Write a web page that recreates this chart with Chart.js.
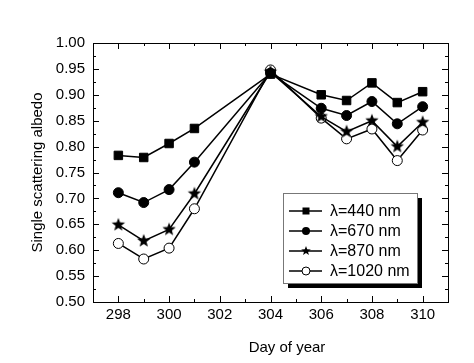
<!DOCTYPE html>
<html>
<head>
<meta charset="utf-8">
<script src="https://cdn.jsdelivr.net/npm/chart.js@4/dist/chart.umd.min.js"></script>
<style>
  html, body { margin: 0; padding: 0; background: #fff; overflow: hidden; }
  canvas { display: block; }
</style>
</head>
<body>
<canvas id="albedoChart" width="474" height="363"></canvas>
<script>
const days = [298, 299, 300, 301, 304, 306, 307, 308, 309, 310];
const albedo440 = [0.783, 0.779, 0.806, 0.835, 0.940, 0.900, 0.889, 0.923, 0.885, 0.906];
const albedo670 = [0.711, 0.692, 0.717, 0.770, 0.942, 0.874, 0.860, 0.887, 0.844, 0.877];
const albedo870 = [0.649, 0.618, 0.640, 0.709, 0.944, 0.858, 0.829, 0.850, 0.800, 0.847];
const albedo1020 = [0.613, 0.583, 0.604, 0.680, 0.948, 0.855, 0.815, 0.834, 0.773, 0.832];
const seriesLabels = ['λ=440 nm', 'λ=670 nm', 'λ=870 nm', 'λ=1020 nm'];
const yTicks = [0.50, 0.55, 0.60, 0.65, 0.70, 0.75, 0.80, 0.85, 0.90, 0.95, 1.00];
const xTicks = [298, 300, 302, 304, 306, 308, 310];
const xTitle = 'Day of year';

const FONT = 'Arial, "Liberation Sans", sans-serif';

// filled five-point star used as point style
function makeStar(r) {
    const c = document.createElement('canvas');
    c.width = c.height = r * 2 + 2;
    const g = c.getContext('2d');
    g.fillStyle = '#000';
    g.beginPath();
    for (let i = 0; i < 10; i++) {
        const rad = i % 2 === 0 ? r : r * 0.42;
        const a = -Math.PI / 2 + i * Math.PI / 5;
        const px = r + 1 + rad * Math.cos(a);
        const py = r + 1 + rad * Math.sin(a);
        if (i === 0) g.moveTo(px, py); else g.lineTo(px, py);
    }
    g.closePath();
    g.fill();
    return c;
}
const starBig = makeStar(7);
const starSmall = makeStar(5);

const toPoints = (vals) => days.map((d, i) => ({x: d, y: vals[i]}));

function drawMarker(ctx, kind, x, y) {
    ctx.save();
    ctx.fillStyle = '#000';
    ctx.strokeStyle = '#000';
    ctx.lineWidth = 1;
    if (kind === 0) {
        ctx.fillRect(x - 3.5, y - 3.5, 7, 7);
    } else if (kind === 1) {
        ctx.beginPath(); ctx.arc(x, y, 4, 0, Math.PI * 2); ctx.fill();
    } else if (kind === 2) {
        ctx.drawImage(starSmall, x - starSmall.width / 2, y - starSmall.height / 2);
    } else {
        ctx.fillStyle = '#fff';
        ctx.beginPath(); ctx.arc(x, y, 4, 0, Math.PI * 2); ctx.fill(); ctx.stroke();
    }
    ctx.restore();
}

const frame = {
    id: 'frame',
    afterDatasetsDraw(chart) {
        const {ctx, chartArea: a, scales: {x, y}} = chart;
        ctx.save();
        ctx.strokeStyle = '#000';
        ctx.lineWidth = 1;
        ctx.strokeRect(a.left + 0.5, a.top + 0.5, a.right - a.left, a.bottom - a.top);
        ctx.beginPath();
        for (let d = 297; d <= 311; d++) {
            const px = Math.round(x.getPixelForValue(d)) + 0.5;
            const len = d % 2 === 0 ? 6 : 3;
            ctx.moveTo(px, a.bottom); ctx.lineTo(px, a.bottom - len);
            ctx.moveTo(px, a.top); ctx.lineTo(px, a.top + len);
        }
        for (let k = 0; k <= 20; k++) {
            const v = 0.5 + k * 0.025;
            const py = Math.round(y.getPixelForValue(v)) + 0.5;
            const len = k % 2 === 0 ? 6 : 3;
            ctx.moveTo(a.left, py); ctx.lineTo(a.left + len, py);
            ctx.moveTo(a.right, py); ctx.lineTo(a.right - len, py);
        }
        ctx.stroke();

        // x axis title, sits a little right of centre in the original
        ctx.fillStyle = '#000';
        ctx.font = '15px ' + FONT;
        ctx.textAlign = 'center';
        ctx.textBaseline = 'middle';
        ctx.fillText(xTitle, 287, 348);

        // legend box with shadow
        const bx = 283, by = 193, bw = 134, bh = 90;
        ctx.fillStyle = '#000';
        ctx.fillRect(bx + 5, by + 5, bw, bh);
        ctx.fillStyle = '#fff';
        ctx.fillRect(bx, by, bw, bh);
        ctx.strokeStyle = '#777';
        ctx.strokeRect(bx + 0.5, by + 0.5, bw, bh);
        ctx.font = '16px ' + FONT;
        ctx.textAlign = 'left';
        chart.data.datasets.forEach((ds, i) => {
            const ly = 211 + i * 20;
            ctx.strokeStyle = '#000';
            ctx.lineWidth = 1.5;
            ctx.beginPath();
            ctx.moveTo(289, ly); ctx.lineTo(322, ly);
            ctx.stroke();
            drawMarker(ctx, i, 306, ly);
            ctx.fillStyle = '#000';
            ctx.fillText(ds.label, 330, ly + 1);
        });
        ctx.restore();
    }
};

const baseSet = {
    borderColor: '#000',
    borderWidth: 1.5,
    pointBorderColor: '#000',
    pointBorderWidth: 1,
    tension: 0
};

new Chart(document.getElementById('albedoChart'), {
    type: 'line',
    data: {
        datasets: [
            {...baseSet, label: seriesLabels[0], data: toPoints(albedo440),
             pointStyle: 'rect', pointRadius: 6, pointBackgroundColor: '#000'},
            {...baseSet, label: seriesLabels[1], data: toPoints(albedo670),
             pointStyle: 'circle', pointRadius: 5, pointBackgroundColor: '#000'},
            {...baseSet, label: seriesLabels[2], data: toPoints(albedo870),
             pointStyle: starBig, pointRadius: 7},
            {...baseSet, label: seriesLabels[3], data: toPoints(albedo1020),
             pointStyle: 'circle', pointRadius: 5, pointBackgroundColor: '#fff'}
        ]
    },
    options: {
        responsive: false,
        animation: false,
        devicePixelRatio: 1,
        layout: {padding: {left: 0, right: 26, top: 43, bottom: 0}},
        plugins: {legend: {display: false}, tooltip: {enabled: false}},
        scales: {
            x: {
                type: 'linear', min: 297, max: 311,
                afterBuildTicks: (s) => { s.ticks = xTicks.map(v => ({value: v})); },
                afterFit: (s) => { s.height = 61; },
                grid: {display: false, drawTicks: false},
                border: {display: false},
                ticks: {color: '#000', font: {family: FONT, size: 15}, padding: 4}
            },
            y: {
                min: 0.5, max: 1.0,
                afterBuildTicks: (s) => { s.ticks = yTicks.map(v => ({value: v})); },
                afterFit: (s) => { s.width = 93; },
                grid: {display: false, drawTicks: false},
                border: {display: false},
                ticks: {color: '#000', font: {family: FONT, size: 15}, padding: 8,
                        callback: (v) => v.toFixed(2)},
                title: {display: true, text: 'Single scattering albedo', color: '#000',
                        font: {family: FONT, size: 15}, padding: {top: 29, bottom: 0}}
            }
        }
    },
    plugins: [frame]
});
</script>
</body>
</html>
